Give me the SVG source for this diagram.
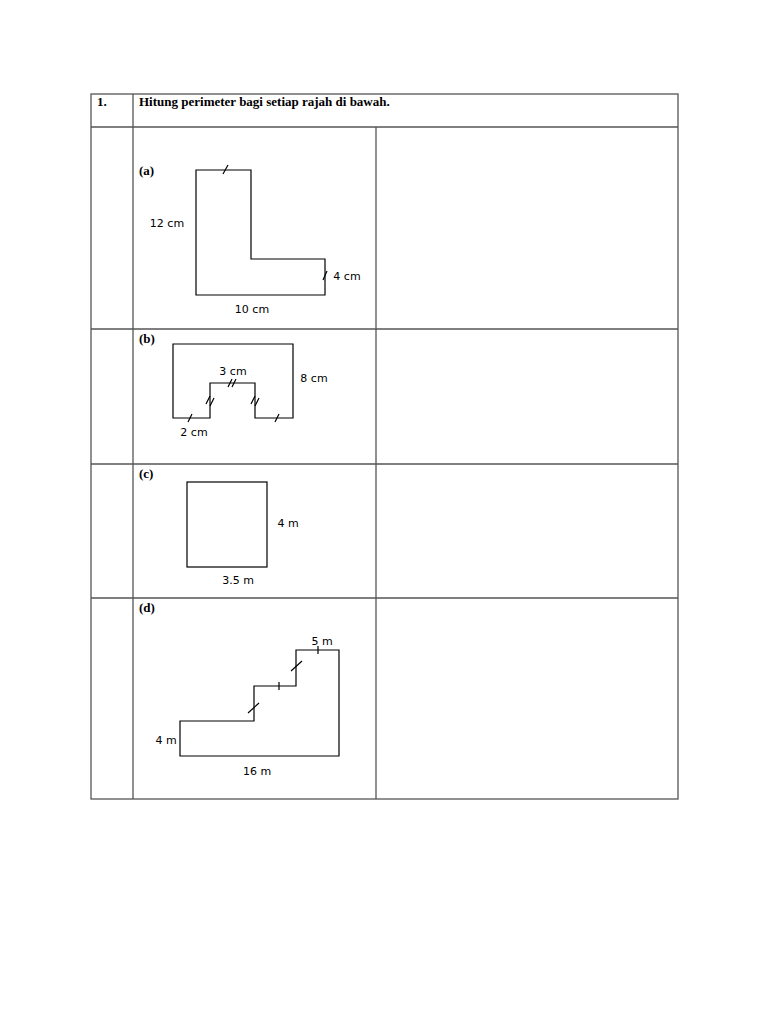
<svg xmlns="http://www.w3.org/2000/svg" width="768" height="1024" viewBox="0 0 768 1024">
<style>
.t{stroke:#555;stroke-width:1.3;fill:none}
.s{stroke:#000;stroke-width:1.2;fill:none}
.h{font-family:"Liberation Serif",serif;font-weight:bold;font-size:13px}
.l{font-family:"DejaVu Sans",sans-serif;font-size:11px;text-anchor:middle}
</style>
<rect width="768" height="1024" fill="#fff"/>
<g id="table" class="t">
<rect x="91" y="94" width="587" height="705"/>
<line x1="133" y1="94" x2="133" y2="799"/>
<line x1="376" y1="127" x2="376" y2="799"/>
<line x1="91" y1="127" x2="678" y2="127"/>
<line x1="91" y1="329" x2="678" y2="329"/>
<line x1="91" y1="464" x2="678" y2="464"/>
<line x1="91" y1="598" x2="678" y2="598"/>
</g>
<text class="h" x="97" y="106">1.</text>
<text class="h" x="139" y="106">Hitung perimeter bagi setiap rajah di bawah.</text>
<g id="a">
<text class="h" x="139" y="175">(a)</text>
<path class="s" d="M196,170H251V259H325V295H196Z"/>
<path class="s" d="M223,174L228,165M323,280L327,271"/>
<text class="l" x="167" y="227">12 cm</text>
<text class="l" x="347" y="280">4 cm</text>
<text class="l" x="252" y="313">10 cm</text>
</g>
<g id="b">
<text class="h" x="139" y="343">(b)</text>
<path class="s" d="M173,418V344H293V418H255V383H210V418Z"/>
<path class="s" d="M188,422L192,414M275,422L279,414M228,387L232,379M232,387L236,379M206,404L210,396M210,406L214,398M251,404L255,396M255,406L259,398"/>
<text class="l" x="233" y="375">3 cm</text>
<text class="l" x="314" y="382">8 cm</text>
<text class="l" x="194" y="436">2 cm</text>
</g>
<g id="c">
<text class="h" x="139" y="478">(c)</text>
<rect class="s" x="187" y="482" width="80" height="85"/>
<text class="l" x="288" y="527">4 m</text>
<text class="l" x="238" y="584">3.5 m</text>
</g>
<g id="d">
<text class="h" x="139" y="612">(d)</text>
<path class="s" d="M180,756V721H254V686H296V650H339V756Z"/>
<path class="s" d="M318,646V654M279,682V690M291,671L302,661M248,713L259,703"/>
<text class="l" x="322" y="645">5 m</text>
<text class="l" x="166" y="744">4 m</text>
<text class="l" x="257" y="775">16 m</text>
</g>
</svg>
